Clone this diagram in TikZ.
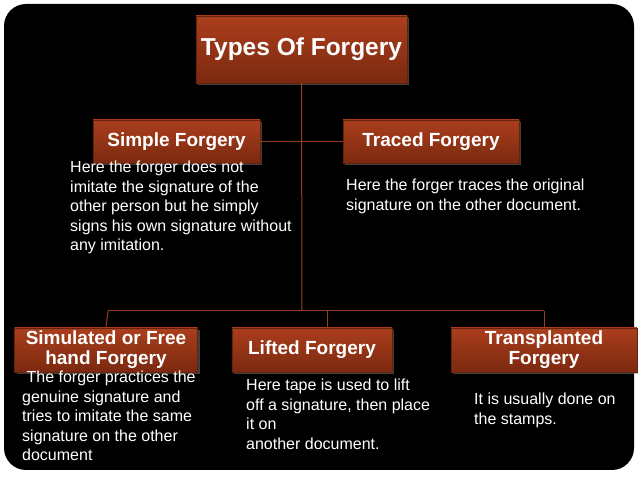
\documentclass[tikz,border=0pt]{standalone}
\usepackage{fontspec}
\setmainfont{Liberation Sans}
\usetikzlibrary{shadows}
\definecolor{boxred}{RGB}{145,48,18}
\definecolor{boxtop}{RGB}{170,62,28}
\definecolor{linec}{RGB}{150,60,35}
\tikzset{
  hbox/.style={draw=boxred!70!black, top color=boxtop, bottom color=boxred!85!black, text=white,
    font=\bfseries, align=center, inner sep=0pt, drop shadow={opacity=0.5,shadow xshift=2pt,shadow yshift=-2pt}},
  bfont/.style={font=\bfseries\fontsize{19}{20}\selectfont},
  desc/.style={text=white, font=\fontsize{16}{19.5}\selectfont, align=left, anchor=north west, inner sep=0pt},
  conn/.style={draw=linec, line width=1pt}
}
\begin{document}
\begin{tikzpicture}[x=1pt,y=-1pt]
\fill[white] (0,0) rectangle (638,478);
\useasboundingbox (0,0) rectangle (638,478);
\fill[black, rounded corners=22pt] (4,4) rectangle (634,470);
\node[hbox, minimum width=211pt, minimum height=67pt, font=\bfseries\fontsize{24.5}{26}\selectfont] (top) at (301.5,49.5) {Types Of Forgery};
\node[hbox, bfont, minimum width=167pt, minimum height=43pt] (simple) at (176.5,141.5) {Simple Forgery};
\node[hbox, bfont, minimum width=176pt, minimum height=43pt] (traced) at (431,141.5) {Traced Forgery};
\node[hbox, bfont, minimum width=183pt, minimum height=44pt] (sim) at (106,350) {Simulated or Free\\hand Forgery};
\node[hbox, bfont, minimum width=160pt, minimum height=44pt] (lift) at (312,350) {Lifted Forgery};
\node[hbox, bfont, minimum width=186pt, minimum height=44pt] (trans) at (544,350) {Transplanted\\Forgery};
\coordinate (j2) at (302,311);
\coordinate (l1) at (108,311);
\coordinate (r1) at (544,311);
\coordinate (m1) at (327,311);
\draw[conn] (top.south) -- (j2);
\draw[conn] (simple.east) -- (traced.west);
\draw[conn] (l1) -- (r1);
\draw[conn] (l1) -- (sim.north);
\draw[conn] (m1) -- (m1 |- lift.north);
\draw[conn] (r1) -- (trans.north);
\node[desc] (d1) at (70,161) {Here the forger does not\\imitate the signature of the\\other person but he simply\\signs his own signature without\\any imitation.};
\node[desc] (d2) at (346,179) {Here the forger traces the original\\signature on the other document.};
\node[desc] (d3) at (22,371) {\ The forger practices the\\genuine signature and\\tries to imitate the same\\signature on the other\\document};
\node[desc] (d4) at (246,379) {Here tape is used to lift\\off a signature, then place\\it on\\another document.};
\node[desc] (d5) at (474,393) {It is usually done on\\the stamps.};
\end{tikzpicture}
\end{document}
